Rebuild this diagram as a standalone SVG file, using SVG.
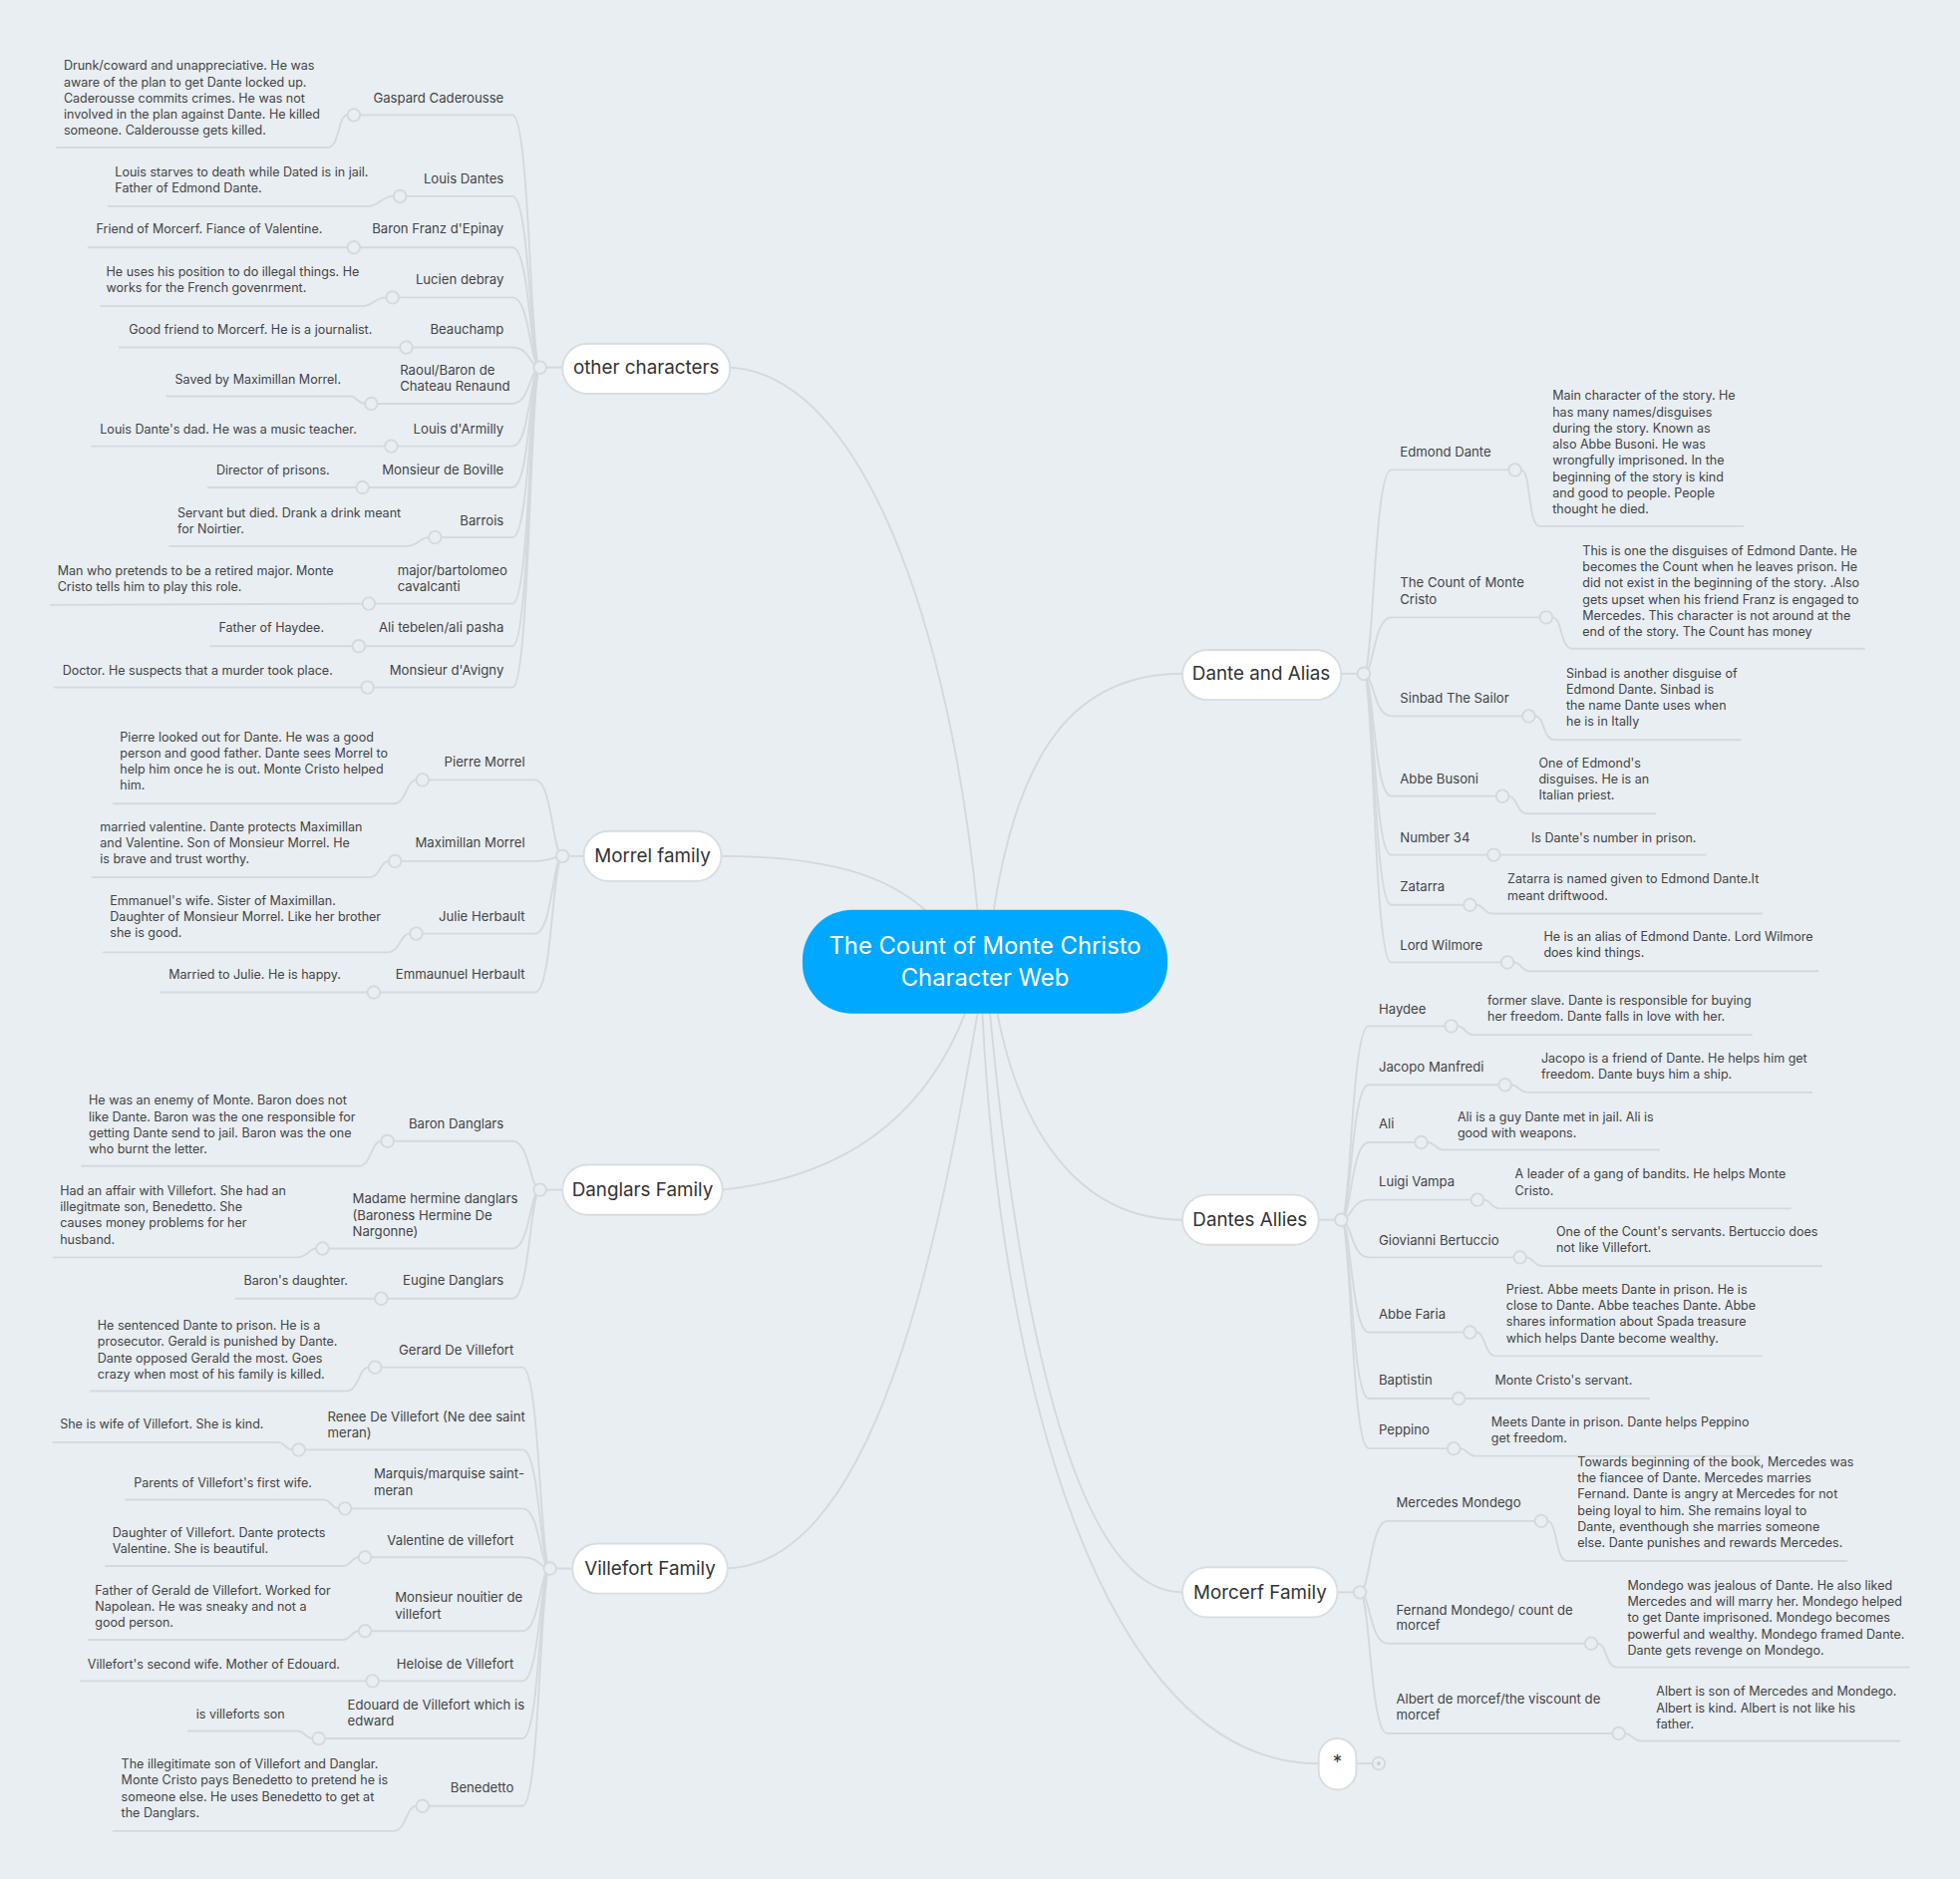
<svg xmlns="http://www.w3.org/2000/svg" width="1966" height="1885" viewBox="0 0 1966 1885">
<style>
.l{fill:none;stroke:#d3d9dc;stroke-width:1.5}
.c{fill:#e8eef2;stroke:#d3d9dc;stroke-width:1.5}
.t{font-family:Inter,"Noto Sans",sans-serif;font-size:10.5px;fill:#444}
.e{text-anchor:end}
.d{font-family:Inter,"Noto Sans",sans-serif;font-size:10px;fill:#444}
.tp{fill:#fff;stroke:#d8dde0;stroke-width:1.5}
.tt{font-family:Inter,"Noto Sans",sans-serif;font-size:15px;fill:#333;text-anchor:middle}
</style>
<rect width="1966" height="1885" fill="#e8eef2"/>
<g transform="scale(1.2538)">
<g id="connectors">
<path class="l" d="M584 294 C690 300 760 500 782 728"/>
<path class="l" d="M577 685 C660 685 710 700 742 730"/>
<path class="l" d="M578 952 C690 940 745 880 772 811"/>
<path class="l" d="M582 1255 C700 1250 750 1000 782 811"/>
<path class="l" d="M946 539 C860 539 815 600 795 728"/>
<path class="l" d="M946 976 C860 976 815 900 798 811"/>
<path class="l" d="M946 1274 C850 1274 810 1000 792 811"/>
<path class="l" d="M1055 1411 C880 1411 800 1100 786 811"/>
<!-- other characters -->
<path class="l" d="M432 294 L450 294"/>
<path class="l" d="M432 294 C424 294 424 92 410 92 L288 92"/><path class="l" d="M278 92 C270 92 272 118 262 118 L45 118"/>
<path class="l" d="M432 294 C424 294 424 157 410 157 L325 157"/><path class="l" d="M315 157 C305 157 303 165 295 165 L86 165"/>
<path class="l" d="M432 294 C424 294 424 198 410 198 L288 198"/><path class="l" d="M278 198 L70 198"/>
<path class="l" d="M432 294 C424 294 424 238 410 238 L319 238"/><path class="l" d="M309 238 C300 238 298 245 290 245 L80 245"/>
<path class="l" d="M432 294 C424 294 424 278 410 278 L330 278"/><path class="l" d="M320 278 L95 278"/>
<path class="l" d="M432 294 C424 294 424 323 410 323 L302 323"/><path class="l" d="M292 323 C286 323 286 317 280 317 L133 317"/>
<path class="l" d="M432 294 C424 294 424 357 410 357 L318 357"/><path class="l" d="M308 357 L73 357"/>
<path class="l" d="M432 294 C424 294 424 390 410 390 L295 390"/><path class="l" d="M285 390 L166 390"/>
<path class="l" d="M432 294 C424 294 424 430 410 430 L353 430"/><path class="l" d="M343 430 C336 430 334 437 326 437 L135 437"/>
<path class="l" d="M432 294 C424 294 424 483 410 483 L300 483"/><path class="l" d="M290 483 L40 484"/>
<path class="l" d="M432 294 C424 294 424 517 410 517 L292 517"/><path class="l" d="M282 517 L168 517"/>
<path class="l" d="M432 294 C424 294 424 550 410 550 L299 550"/><path class="l" d="M289 550 L43 550"/>
<!-- morrel -->
<path class="l" d="M450 685 L467 685"/>
<path class="l" d="M450 685 C442 685 442 624 428 624 L343 624"/><path class="l" d="M333 624 C325 624 325 643 315 643 L90 643"/>
<path class="l" d="M450 685 C442 685 442 689 428 689 L321 689"/><path class="l" d="M311 689 C304 689 304 702 296 702 L73 702"/>
<path class="l" d="M450 685 C442 685 442 747 428 747 L338 747"/><path class="l" d="M328 747 C320 747 320 762 310 762 L82 762"/>
<path class="l" d="M450 685 C442 685 442 794 428 794 L304 794"/><path class="l" d="M294 794 L128 794"/>
<!-- danglars -->
<path class="l" d="M432 952 L450 952"/>
<path class="l" d="M432 952 C424 952 424 913 410 913 L315 913"/><path class="l" d="M305 913 C297 913 297 933 287 933 L65 933"/>
<path class="l" d="M432 952 C424 952 424 999 410 999 L263 999"/><path class="l" d="M253 999 C247 999 246 1006 238 1006 L42 1006"/>
<path class="l" d="M432 952 C424 952 424 1039 410 1039 L310 1039"/><path class="l" d="M300 1039 L188 1039"/>
<!-- villefort -->
<path class="l" d="M440 1255 L458 1255"/>
<path class="l" d="M440 1255 C432 1255 432 1094 418 1094 L305 1094"/><path class="l" d="M295 1094 C287 1094 287 1113 277 1113 L72 1113"/>
<path class="l" d="M440 1255 C432 1255 432 1160 418 1160 L244 1160"/><path class="l" d="M234 1160 C228 1160 228 1154 222 1154 L42 1154"/>
<path class="l" d="M440 1255 C432 1255 432 1207 418 1207 L281 1207"/><path class="l" d="M271 1207 C265 1207 265 1200 259 1200 L100 1200"/>
<path class="l" d="M440 1255 C432 1255 432 1246 418 1246 L297 1246"/><path class="l" d="M287 1246 C281 1246 281 1253 274 1253 L84 1253"/>
<path class="l" d="M440 1255 C432 1255 432 1305 418 1305 L297 1305"/><path class="l" d="M287 1305 C281 1305 281 1312 274 1312 L70 1312"/>
<path class="l" d="M440 1255 C432 1255 432 1345 418 1345 L303 1345"/><path class="l" d="M293 1345 L64 1345"/>
<path class="l" d="M440 1255 C432 1255 432 1391 418 1391 L260 1391"/><path class="l" d="M250 1391 C244 1391 244 1385 238 1385 L150 1385"/>
<path class="l" d="M440 1255 C432 1255 432 1445 418 1445 L343 1445"/><path class="l" d="M333 1445 C325 1445 325 1465 315 1465 L90 1465"/>
<!-- dante and alias -->
<path class="l" d="M1073 539 L1091 539"/>
<path class="l" d="M1091 539 C1099 539 1099 376 1113 376 L1207 376"/><path class="l" d="M1217 376 C1225 376 1222 421 1232 421 L1395 421"/>
<path class="l" d="M1091 539 C1099 539 1099 494 1113 494 L1232 494"/><path class="l" d="M1242 494 C1250 494 1248 519 1258 519 L1492 519"/>
<path class="l" d="M1091 539 C1099 539 1099 573 1113 573 L1218 573"/><path class="l" d="M1228 573 C1236 573 1234 592 1244 592 L1393 592"/>
<path class="l" d="M1091 539 C1099 539 1099 637 1113 637 L1197 637"/><path class="l" d="M1207 637 C1214 637 1213 651 1222 651 L1325 651"/>
<path class="l" d="M1091 539 C1099 539 1099 684 1113 684 L1190 684"/><path class="l" d="M1200 684 L1365 684"/>
<path class="l" d="M1091 539 C1099 539 1099 724 1113 724 L1171 724"/><path class="l" d="M1181 724 C1187 724 1187 731 1194 731 L1410 731"/>
<path class="l" d="M1091 539 C1099 539 1099 770 1113 770 L1201 770"/><path class="l" d="M1211 770 C1217 770 1217 777 1224 777 L1455 777"/>
<!-- allies -->
<path class="l" d="M1055 976 L1073 976"/>
<path class="l" d="M1073 976 C1081 976 1081 821 1095 821 L1156 821"/><path class="l" d="M1166 821 C1172 821 1172 828 1179 828 L1402 828"/>
<path class="l" d="M1073 976 C1081 976 1081 868 1095 868 L1199 868"/><path class="l" d="M1209 868 C1215 868 1215 874 1222 874 L1450 874"/>
<path class="l" d="M1073 976 C1081 976 1081 914 1095 914 L1132 914"/><path class="l" d="M1142 914 C1148 914 1148 920 1155 920 L1328 920"/>
<path class="l" d="M1073 976 C1081 976 1081 960 1095 960 L1177 960"/><path class="l" d="M1187 960 C1193 960 1193 967 1200 967 L1433 967"/>
<path class="l" d="M1073 976 C1081 976 1081 1006 1095 1006 L1211 1006"/><path class="l" d="M1221 1006 C1227 1006 1227 1013 1234 1013 L1458 1013"/>
<path class="l" d="M1073 976 C1081 976 1081 1066 1095 1066 L1171 1066"/><path class="l" d="M1181 1066 C1189 1066 1187 1085 1197 1085 L1410 1085"/>
<path class="l" d="M1073 976 C1081 976 1081 1119 1095 1119 L1162 1119"/><path class="l" d="M1172 1119 L1320 1119"/>
<path class="l" d="M1073 976 C1081 976 1081 1159 1095 1159 L1158 1159"/><path class="l" d="M1168 1159 C1174 1159 1174 1165 1181 1165 L1408 1165"/>
<!-- morcerf -->
<path class="l" d="M1070 1274 L1088 1274"/>
<path class="l" d="M1088 1274 C1096 1274 1096 1217 1110 1217 L1228 1217"/><path class="l" d="M1238 1217 C1246 1217 1244 1249 1254 1249 L1478 1249"/>
<path class="l" d="M1088 1274 C1096 1274 1096 1315 1110 1315 L1268 1315"/><path class="l" d="M1278 1315 C1286 1315 1284 1334 1294 1334 L1528 1334"/>
<path class="l" d="M1088 1274 C1096 1274 1096 1387 1110 1387 L1290 1387"/><path class="l" d="M1300 1387 C1306 1387 1306 1393 1313 1393 L1520 1393"/>
<path class="l" d="M1085 1411 L1098 1411"/>
</g>
<g id="circles">
<circle class="c" cx="432" cy="294" r="5"/><circle class="c" cx="450" cy="685" r="5"/><circle class="c" cx="432" cy="952" r="5"/><circle class="c" cx="440" cy="1255" r="5"/>
<circle class="c" cx="1091" cy="539" r="5"/><circle class="c" cx="1073" cy="976" r="5"/><circle class="c" cx="1088" cy="1274" r="5"/>
<circle class="c" cx="1103" cy="1411" r="5"/><circle cx="1103" cy="1411" r="1.5" fill="#c5cdd1"/>
<circle class="c" cx="283" cy="92" r="5"/><circle class="c" cx="320" cy="157" r="5"/><circle class="c" cx="283" cy="198" r="5"/><circle class="c" cx="314" cy="238" r="5"/><circle class="c" cx="325" cy="278" r="5"/><circle class="c" cx="297" cy="323" r="5"/><circle class="c" cx="313" cy="357" r="5"/><circle class="c" cx="290" cy="390" r="5"/><circle class="c" cx="348" cy="430" r="5"/><circle class="c" cx="295" cy="483" r="5"/><circle class="c" cx="287" cy="517" r="5"/><circle class="c" cx="294" cy="550" r="5"/>
<circle class="c" cx="338" cy="624" r="5"/><circle class="c" cx="316" cy="689" r="5"/><circle class="c" cx="333" cy="747" r="5"/><circle class="c" cx="299" cy="794" r="5"/>
<circle class="c" cx="310" cy="913" r="5"/><circle class="c" cx="258" cy="999" r="5"/><circle class="c" cx="305" cy="1039" r="5"/>
<circle class="c" cx="300" cy="1094" r="5"/><circle class="c" cx="239" cy="1160" r="5"/><circle class="c" cx="276" cy="1207" r="5"/><circle class="c" cx="292" cy="1246" r="5"/><circle class="c" cx="292" cy="1305" r="5"/><circle class="c" cx="298" cy="1345" r="5"/><circle class="c" cx="255" cy="1391" r="5"/><circle class="c" cx="338" cy="1445" r="5"/>
<circle class="c" cx="1212" cy="376" r="5"/><circle class="c" cx="1237" cy="494" r="5"/><circle class="c" cx="1223" cy="573" r="5"/><circle class="c" cx="1202" cy="637" r="5"/><circle class="c" cx="1195" cy="684" r="5"/><circle class="c" cx="1176" cy="724" r="5"/><circle class="c" cx="1206" cy="770" r="5"/>
<circle class="c" cx="1161" cy="821" r="5"/><circle class="c" cx="1204" cy="868" r="5"/><circle class="c" cx="1137" cy="914" r="5"/><circle class="c" cx="1182" cy="960" r="5"/><circle class="c" cx="1216" cy="1006" r="5"/><circle class="c" cx="1176" cy="1066" r="5"/><circle class="c" cx="1167" cy="1119" r="5"/><circle class="c" cx="1163" cy="1159" r="5"/>
<circle class="c" cx="1233" cy="1217" r="5"/><circle class="c" cx="1273" cy="1315" r="5"/><circle class="c" cx="1295" cy="1387" r="5"/>
</g>
<g id="central">
<rect x="642" y="728" width="292" height="83" rx="40" fill="#00a8ff"/>
<text x="788" y="763" font-family="Inter,'Noto Sans',sans-serif" font-size="19" fill="#fff" text-anchor="middle">The Count of Monte Christo</text>
<text x="788" y="789" font-family="Inter,'Noto Sans',sans-serif" font-size="19" fill="#fff" text-anchor="middle">Character Web</text>
</g>
<g id="topic-other"><rect class="tp" x="450" y="275" width="134" height="40" rx="20"/><text class="tt" x="517" y="299">other characters</text></g>
<g id="topic-morrel"><rect class="tp" x="467" y="665" width="110" height="40" rx="20"/><text class="tt" x="522" y="690">Morrel family</text></g>
<g id="topic-danglars"><rect class="tp" x="450" y="932" width="128" height="40" rx="20"/><text class="tt" x="514" y="957">Danglars Family</text></g>
<g id="topic-villefort"><rect class="tp" x="458" y="1235" width="124" height="40" rx="20"/><text class="tt" x="520" y="1260">Villefort Family</text></g>
<g id="topic-alias"><rect class="tp" x="946" y="520" width="127" height="40" rx="20"/><text class="tt" x="1009" y="544">Dante and Alias</text></g>
<g id="topic-allies"><rect class="tp" x="946" y="956" width="109" height="40" rx="20"/><text class="tt" x="1000" y="981">Dantes Allies</text></g>
<g id="topic-morcerf"><rect class="tp" x="946" y="1254" width="124" height="40" rx="20"/><text class="tt" x="1008" y="1279">Morcerf Family</text></g>
<g id="topic-star"><rect class="tp" x="1055" y="1391" width="30" height="41" rx="15"/><text class="tt" x="1070" y="1415">*</text></g>
<g id="other-items">
<text class="t e" x="403" y="82">Gaspard Caderousse</text>
<text class="d" x="51" y="56">Drunk/coward and unappreciative.  He was</text><text class="d" x="51" y="69">aware of the plan to get Dante locked up.</text><text class="d" x="51" y="82">Caderousse commits crimes.  He was not</text><text class="d" x="51" y="95">involved in the plan against Dante.  He killed</text><text class="d" x="51" y="108">someone.  Calderousse gets killed.</text>
<text class="t e" x="403" y="147">Louis Dantes</text>
<text class="d" x="92" y="141">Louis starves to death while Dated is in jail.</text><text class="d" x="92" y="154">Father of Edmond Dante.</text>
<text class="t e" x="403" y="187">Baron Franz d'Epinay</text><text class="d" x="77" y="187">Friend of Morcerf. Fiance of Valentine.</text>
<text class="t e" x="403" y="227">Lucien debray</text>
<text class="d" x="85" y="221">He uses his position to do illegal things.  He</text><text class="d" x="85" y="234">works for the French govenrment.</text>
<text class="t e" x="403" y="267">Beauchamp</text><text class="d" x="103" y="267">Good friend to Morcerf.  He is a journalist.</text>
<text class="t" x="320" y="300">Raoul/Baron de</text><text class="t" x="320" y="313">Chateau Renaund</text><text class="d" x="140" y="307">Saved by Maximillan Morrel.</text>
<text class="t e" x="403" y="347">Louis d'Armilly</text><text class="d" x="80" y="347">Louis Dante's dad.  He was  a music teacher.</text>
<text class="t e" x="403" y="380">Monsieur de Boville</text><text class="d" x="173" y="380">Director of prisons.</text>
<text class="t e" x="403" y="420">Barrois</text>
<text class="d" x="142" y="414">Servant but died.  Drank a drink meant</text><text class="d" x="142" y="427">for Noirtier.</text>
<text class="t" x="318" y="460">major/bartolomeo</text><text class="t" x="318" y="473">cavalcanti</text>
<text class="d" x="46" y="460">Man who pretends to be a retired major.  Monte</text><text class="d" x="46" y="473">Cristo tells him to play this role.</text>
<text class="t e" x="403" y="506">Ali tebelen/ali pasha</text><text class="d" x="175" y="506">Father of Haydee.</text>
<text class="t e" x="403" y="540">Monsieur d'Avigny</text><text class="d" x="50" y="540">Doctor.  He suspects that a murder took place.</text>
</g>
<g id="morrel-items">
<text class="t e" x="420" y="613">Pierre Morrel</text>
<text class="d" x="96" y="593">Pierre looked out for Dante. He was a good</text><text class="d" x="96" y="606">person and good father.  Dante sees Morrel to</text><text class="d" x="96" y="619">help him once he is out.  Monte Cristo helped</text><text class="d" x="96" y="632">him.</text>
<text class="t e" x="420" y="678">Maximillan Morrel</text>
<text class="d" x="80" y="665">married valentine.  Dante protects Maximillan</text><text class="d" x="80" y="678">and Valentine.  Son of Monsieur Morrel.  He</text><text class="d" x="80" y="691">is brave and trust worthy.</text>
<text class="t e" x="420" y="737">Julie Herbault</text>
<text class="d" x="88" y="724">Emmanuel's wife.  Sister of Maximillan.</text><text class="d" x="88" y="737">Daughter of Monsieur Morrel.   Like her brother</text><text class="d" x="88" y="750">she is good.</text>
<text class="t e" x="420" y="783">Emmaunuel Herbault</text><text class="d" x="135" y="783">Married to Julie.  He is happy.</text>
</g>
<g id="danglars-items">
<text class="t e" x="403" y="903">Baron Danglars</text>
<text class="d" x="71" y="884">He was an enemy of Monte.  Baron does not</text><text class="d" x="71" y="897">like Dante.  Baron was the one responsible for</text><text class="d" x="71" y="910">getting Dante send to jail.  Baron was the one</text><text class="d" x="71" y="923">who burnt the letter.</text>
<text class="t" x="282" y="963">Madame hermine danglars</text><text class="t" x="282" y="976">(Baroness Hermine De</text><text class="t" x="282" y="989">Nargonne)</text>
<text class="d" x="48" y="956">Had an affair with Villefort.  She had an</text><text class="d" x="48" y="969">illegitmate son, Benedetto.  She</text><text class="d" x="48" y="982">causes money problems for her</text><text class="d" x="48" y="995">husband.</text>
<text class="t e" x="403" y="1028">Eugine Danglars</text><text class="d" x="195" y="1028">Baron's daughter.</text>
</g>
<g id="villefort-items">
<text class="t e" x="411" y="1084">Gerard De Villefort</text>
<text class="d" x="78" y="1064">He sentenced Dante to prison.  He is a</text><text class="d" x="78" y="1077">prosecutor.  Gerald is punished by Dante.</text><text class="d" x="78" y="1090">Dante opposed Gerald the most. Goes</text><text class="d" x="78" y="1103">crazy when most of his family is killed.</text>
<text class="t" x="262" y="1137">Renee De Villefort (Ne dee saint</text><text class="t" x="262" y="1150">meran)</text><text class="d" x="48" y="1143">She is wife of Villefort.  She is kind.</text>
<text class="t" x="299" y="1183">Marquis/marquise saint-</text><text class="t" x="299" y="1196">meran</text><text class="d" x="107" y="1190">Parents of Villefort's first wife.</text>
<text class="t e" x="411" y="1236">Valentine de villefort</text>
<text class="d" x="90" y="1230">Daughter of Villefort.  Dante protects</text><text class="d" x="90" y="1243">Valentine.  She is beautiful.</text>
<text class="t" x="316" y="1282">Monsieur nouitier de</text><text class="t" x="316" y="1295">villefort</text>
<text class="d" x="76" y="1276">Father of Gerald de Villefort.  Worked for</text><text class="d" x="76" y="1289">Napolean.  He was sneaky and not a</text><text class="d" x="76" y="1302">good person.</text>
<text class="t e" x="411" y="1335">Heloise de Villefort</text><text class="d" x="70" y="1335">Villefort's second wife.  Mother of Edouard.</text>
<text class="t" x="278" y="1368">Edouard de Villefort which is</text><text class="t" x="278" y="1381">edward</text><text class="d" x="157" y="1375">is villeforts son</text>
<text class="t e" x="411" y="1434">Benedetto</text>
<text class="d" x="97" y="1415">The illegitimate son of Villefort and Danglar.</text><text class="d" x="97" y="1428">Monte Cristo pays Benedetto to pretend he is</text><text class="d" x="97" y="1441">someone else.  He uses Benedetto to get at</text><text class="d" x="97" y="1454">the Danglars.</text>
</g>
<g id="alias-items">
<text class="t" x="1120" y="365">Edmond Dante</text>
<text class="d" x="1242" y="320">Main character of the story.  He</text><text class="d" x="1242" y="333">has many names/disguises</text><text class="d" x="1242" y="346">during the story.  Known as</text><text class="d" x="1242" y="359">also Abbe Busoni.  He was</text><text class="d" x="1242" y="372">wrongfully imprisoned.  In the</text><text class="d" x="1242" y="385">beginning of the story is kind</text><text class="d" x="1242" y="398">and good to people. People</text><text class="d" x="1242" y="411">thought he died.</text>
<text class="t" x="1120" y="470">The Count of Monte</text><text class="t" x="1120" y="483">Cristo</text>
<text class="d" x="1266" y="444">This is one the disguises of Edmond Dante.  He</text><text class="d" x="1266" y="457">becomes the Count when he leaves prison. He</text><text class="d" x="1266" y="470">did not exist in the beginning of the story. .Also</text><text class="d" x="1266" y="483">gets upset when his friend Franz is engaged to</text><text class="d" x="1266" y="496">Mercedes.  This character is not around at the</text><text class="d" x="1266" y="509">end of the story. The Count has money</text>
<text class="t" x="1120" y="562">Sinbad The Sailor</text>
<text class="d" x="1253" y="542">Sinbad is another disguise of</text><text class="d" x="1253" y="555">Edmond Dante.  Sinbad is</text><text class="d" x="1253" y="568">the name Dante uses when</text><text class="d" x="1253" y="581">he is in Itally</text>
<text class="t" x="1120" y="627">Abbe Busoni</text>
<text class="d" x="1231" y="614">One of Edmond's</text><text class="d" x="1231" y="627">disguises.  He is an</text><text class="d" x="1231" y="640">Italian priest.</text>
<text class="t" x="1120" y="674">Number 34</text><text class="d" x="1225" y="674">Is Dante's  number in prison.</text>
<text class="t" x="1120" y="713">Zatarra</text>
<text class="d" x="1206" y="707">Zatarra is named given to Edmond Dante.It</text><text class="d" x="1206" y="720">meant driftwood.</text>
<text class="t" x="1120" y="760">Lord Wilmore</text>
<text class="d" x="1235" y="753">He is an alias of Edmond Dante.  Lord Wilmore</text><text class="d" x="1235" y="766">does kind things.</text>
</g>
<g id="allies-items">
<text class="t" x="1103" y="811">Haydee</text>
<text class="d" x="1190" y="804">former slave. Dante is responsible for buying</text><text class="d" x="1190" y="817">her freedom.  Dante falls in love with her.</text>
<text class="t" x="1103" y="857">Jacopo Manfredi</text>
<text class="d" x="1233" y="850">Jacopo is a friend of Dante.  He helps him get</text><text class="d" x="1233" y="863">freedom.  Dante buys him a ship.</text>
<text class="t" x="1103" y="903">Ali</text>
<text class="d" x="1166" y="897">Ali is a guy Dante met in jail.  Ali is</text><text class="d" x="1166" y="910">good with weapons.</text>
<text class="t" x="1103" y="949">Luigi Vampa</text>
<text class="d" x="1212" y="943">A leader of a gang of bandits.  He helps Monte</text><text class="d" x="1212" y="956">Cristo.</text>
<text class="t" x="1103" y="996">Giovianni Bertuccio</text>
<text class="d" x="1245" y="989">One of the Count's servants.  Bertuccio does</text><text class="d" x="1245" y="1002">not like Villefort.</text>
<text class="t" x="1103" y="1055">Abbe Faria</text>
<text class="d" x="1205" y="1035">Priest.  Abbe meets Dante in prison.  He is</text><text class="d" x="1205" y="1048">close to Dante.  Abbe teaches Dante. Abbe</text><text class="d" x="1205" y="1061">shares information about Spada treasure</text><text class="d" x="1205" y="1074">which helps Dante become wealthy.</text>
<text class="t" x="1103" y="1108">Baptistin</text><text class="d" x="1196" y="1108">Monte Cristo's servant.</text>
<text class="t" x="1103" y="1148">Peppino</text>
<text class="d" x="1193" y="1141">Meets Dante in prison.  Dante helps Peppino</text><text class="d" x="1193" y="1154">get freedom.</text>
</g>
<g id="morcerf-items">
<text class="t" x="1117" y="1206">Mercedes Mondego</text>
<text class="d" x="1262" y="1173">Towards beginning of the book, Mercedes was</text><text class="d" x="1262" y="1186">the fiancee of Dante.  Mercedes marries</text><text class="d" x="1262" y="1199">Fernand.  Dante is angry at Mercedes for not</text><text class="d" x="1262" y="1212">being loyal to him. She remains loyal to</text><text class="d" x="1262" y="1225">Dante, eventhough she marries someone</text><text class="d" x="1262" y="1238">else. Dante punishes and rewards Mercedes.</text>
<text class="t" x="1117" y="1292">Fernand Mondego/ count de</text><text class="t" x="1117" y="1304">morcef</text>
<text class="d" x="1302" y="1272">Mondego was jealous of Dante.  He also liked</text><text class="d" x="1302" y="1285">Mercedes and will marry her.  Mondego helped</text><text class="d" x="1302" y="1298">to get Dante imprisoned.  Mondego becomes</text><text class="d" x="1302" y="1311">powerful and wealthy. Mondego framed Dante.</text><text class="d" x="1302" y="1324">Dante gets revenge on Mondego.</text>
<text class="t" x="1117" y="1363">Albert de morcef/the viscount de</text><text class="t" x="1117" y="1376">morcef</text>
<text class="d" x="1325" y="1357">Albert is son of Mercedes and Mondego.</text><text class="d" x="1325" y="1370">Albert is kind. Albert is not like his</text><text class="d" x="1325" y="1383">father.</text>
</g>
</g>
</svg>
